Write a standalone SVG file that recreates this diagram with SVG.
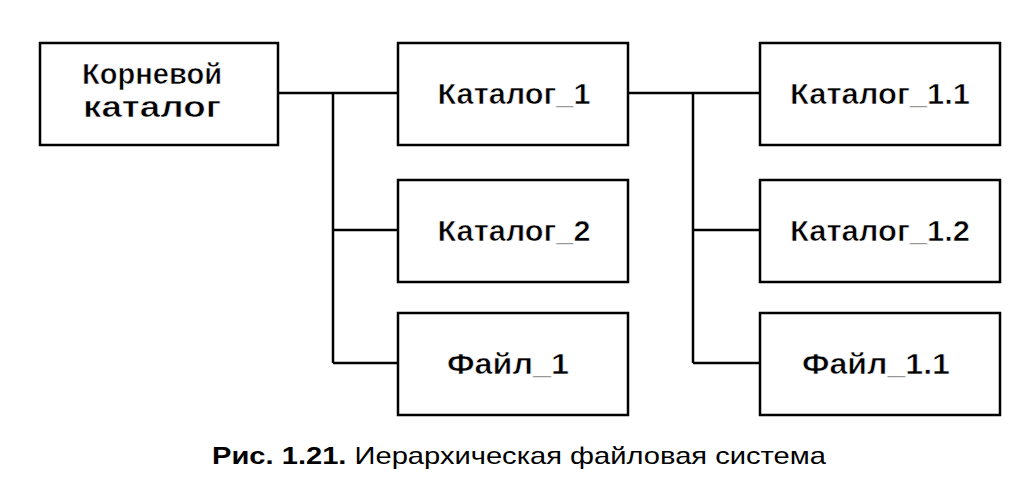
<svg xmlns="http://www.w3.org/2000/svg" width="1026" height="487" viewBox="0 0 1026 487">
<style>
.b{fill:#fff;stroke:#000;stroke-width:2.5}
.c line{stroke:#000;stroke-width:2.5}
text{font-family:"Liberation Sans",Arial,sans-serif;font-size:29px;fill:#000;text-anchor:middle;font-weight:bold;stroke:#fff;stroke-width:0.6;paint-order:normal}
.cap{font-size:24px;text-anchor:start;font-weight:normal;stroke:none}
</style>
<rect width="1026" height="487" fill="#fff"/>
<g class="c">
<line x1="278" y1="93" x2="398" y2="93"/>
<line x1="333" y1="93" x2="333" y2="363"/>
<line x1="333" y1="230" x2="398" y2="230"/>
<line x1="333" y1="363" x2="398" y2="363"/>
<line x1="628" y1="93" x2="760" y2="93"/>
<line x1="693" y1="93" x2="693" y2="363"/>
<line x1="693" y1="230" x2="760" y2="230"/>
<line x1="693" y1="363" x2="760" y2="363"/>
</g>
<g id="root"><rect class="b" x="40" y="43" width="238" height="102"/><text x="152" y="84" textLength="140" lengthAdjust="spacingAndGlyphs">Корневой</text><text x="152" y="117" textLength="138" lengthAdjust="spacingAndGlyphs">каталог</text></g>
<g id="k1"><rect class="b" x="398" y="43" width="230" height="102"/><text x="514" y="104" textLength="153" lengthAdjust="spacingAndGlyphs">Каталог_1</text></g>
<g id="k2"><rect class="b" x="398" y="180" width="230" height="102"/><text x="514" y="241" textLength="153" lengthAdjust="spacingAndGlyphs">Каталог_2</text></g>
<g id="f1"><rect class="b" x="398" y="313" width="230" height="102"/><text x="508" y="374" textLength="122" lengthAdjust="spacingAndGlyphs">Файл_1</text></g>
<g id="k11"><rect class="b" x="760" y="43" width="240" height="102"/><text x="880" y="104" textLength="180" lengthAdjust="spacingAndGlyphs">Каталог_1.1</text></g>
<g id="k12"><rect class="b" x="760" y="180" width="240" height="102"/><text x="880" y="241" textLength="180" lengthAdjust="spacingAndGlyphs">Каталог_1.2</text></g>
<g id="f11"><rect class="b" x="760" y="313" width="240" height="102"/><text x="876" y="374" textLength="148" lengthAdjust="spacingAndGlyphs">Файл_1.1</text></g>
<text class="cap" x="212" y="464" textLength="614" lengthAdjust="spacingAndGlyphs"><tspan font-weight="bold">Рис.  1.21.</tspan> Иерархическая файловая система</text>
</svg>
